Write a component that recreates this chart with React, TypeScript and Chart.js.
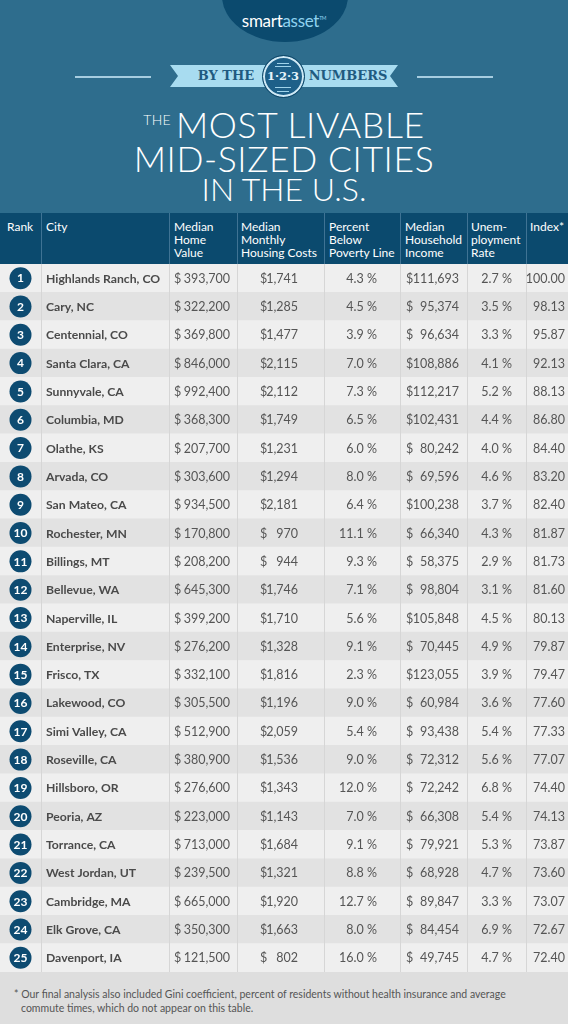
import React, { useEffect, useRef } from "react";
import { Chart, registerables } from "chart.js";

Chart.register(...registerables);

// ---------- data ----------
const RANKS = [1, 2, 3, 4, 5, 6, 7, 8, 9, 10, 11, 12, 13, 14, 15, 16, 17, 18, 19, 20, 21, 22, 23, 24, 25];
const CITIES = [
  "Highlands Ranch, CO", "Cary, NC", "Centennial, CO", "Santa Clara, CA", "Sunnyvale, CA",
  "Columbia, MD", "Olathe, KS", "Arvada, CO", "San Mateo, CA", "Rochester, MN",
  "Billings, MT", "Bellevue, WA", "Naperville, IL", "Enterprise, NV", "Frisco, TX",
  "Lakewood, CO", "Simi Valley, CA", "Roseville, CA", "Hillsboro, OR", "Peoria, AZ",
  "Torrance, CA", "West Jordan, UT", "Cambridge, MA", "Elk Grove, CA", "Davenport, IA",
];
const HOME_VALUE = [
  393700, 322200, 369800, 846000, 992400, 368300, 207700, 303600, 934500, 170800,
  208200, 645300, 399200, 276200, 332100, 305500, 512900, 380900, 276600, 223000,
  713000, 239500, 665000, 350300, 121500,
];
const HOUSING_COSTS = [
  1741, 1285, 1477, 2115, 2112, 1749, 1231, 1294, 2181, 970,
  944, 1746, 1710, 1328, 1816, 1196, 2059, 1536, 1343, 1143,
  1684, 1321, 1920, 1663, 802,
];
const POVERTY = [
  4.3, 4.5, 3.9, 7.0, 7.3, 6.5, 6.0, 8.0, 6.4, 11.1,
  9.3, 7.1, 5.6, 9.1, 2.3, 9.0, 5.4, 9.0, 12.0, 7.0,
  9.1, 8.8, 12.7, 8.0, 16.0,
];
const INCOME = [
  111693, 95374, 96634, 108886, 112217, 102431, 80242, 69596, 100238, 66340,
  58375, 98804, 105848, 70445, 123055, 60984, 93438, 72312, 72242, 66308,
  79921, 68928, 89847, 84454, 49745,
];
const UNEMPLOYMENT = [
  2.7, 3.5, 3.3, 4.1, 5.2, 4.4, 4.0, 4.6, 3.7, 4.3,
  2.9, 3.1, 4.5, 4.9, 3.9, 3.6, 5.4, 5.6, 6.8, 5.4,
  5.3, 4.7, 3.3, 6.9, 4.7,
];
const INDEX = [
  100.0, 98.13, 95.87, 92.13, 88.13, 86.8, 84.4, 83.2, 82.4, 81.87,
  81.73, 81.6, 80.13, 79.87, 79.47, 77.6, 77.33, 77.07, 74.4, 74.13,
  73.87, 73.6, 73.07, 72.67, 72.4,
];
const HEADERS = [
  ["Rank"],
  ["City"],
  ["Median", "Home", "Value"],
  ["Median", "Monthly", "Housing Costs"],
  ["Percent", "Below", "Poverty Line"],
  ["Median", "Household", "Income"],
  ["Unem-", "ployment", "Rate"],
  ["Index*"],
];
const FOOTNOTE_1 = "Our final analysis also included Gini coefficient, percent of residents without health insurance and average";
const FOOTNOTE_2 = "commute times, which do not appear on this table.";

// ---------- layout ----------
const W = 568;
const COL_EDGES = [0, 41, 169, 237, 324, 400, 467, 526, 568];
const HEADER_TEXT_X = [7, 46, 174, 241, 329, 405, 471, 530];
const NAVY = "#0b4a6e";
const STEEL = "#2e6d8d";

const fmt = (n: number) => n.toLocaleString("en-US");

const tablePlugin = {
  id: "tableCells",
  afterDatasetsDraw(chart: any) {
    const { ctx, chartArea, scales } = chart;
    const xs = scales.x;
    const ys = scales.y;
    const px = (v: number) => xs.getPixelForValue(v);
    ctx.save();
    // column dividers
    ctx.strokeStyle = "#d6d6d6";
    ctx.lineWidth = 1;
    COL_EDGES.slice(1, -1).forEach((e) => {
      const p = Math.round(px(e)) + 0.5;
      ctx.beginPath();
      ctx.moveTo(p, chartArea.top);
      ctx.lineTo(p, chartArea.bottom);
      ctx.stroke();
    });
    const num = "12.5px Lato";
    CITIES.forEach((city, i) => {
      const cy = ys.getPixelForValue(i);
      const base = cy + 4.5;
      // rank badge
      const rx = px((COL_EDGES[0] + COL_EDGES[1]) / 2);
      ctx.fillStyle = "#0d4b71";
      ctx.beginPath();
      ctx.arc(rx, cy, 11, 0, Math.PI * 2);
      ctx.fill();
      ctx.fillStyle = "#ffffff";
      ctx.font = "bold 12px Lato";
      ctx.textAlign = "center";
      ctx.textBaseline = "alphabetic";
      ctx.fillText(String(RANKS[i]), rx, cy + 4.3);
      // city
      ctx.fillStyle = "#4a4a4a";
      ctx.font = "bold 12.2px Lato";
      ctx.textAlign = "left";
      ctx.fillText(city, px(COL_EDGES[1] + 5), base);
      ctx.fillStyle = "#555555";
      ctx.font = num;
      // home value
      ctx.textAlign = "left";
      ctx.fillText("$", px(COL_EDGES[2] + 5), base);
      ctx.textAlign = "right";
      ctx.fillText(fmt(HOME_VALUE[i]), px(COL_EDGES[3] - 7), base);
      // housing costs
      ctx.textAlign = "left";
      ctx.fillText("$", px(COL_EDGES[3] + 23), base);
      ctx.textAlign = "right";
      ctx.fillText(fmt(HOUSING_COSTS[i]), px(COL_EDGES[4] - 26), base);
      // poverty
      ctx.fillText(POVERTY[i].toFixed(1) + " %", px(COL_EDGES[5] - 23), base);
      // income
      ctx.textAlign = "left";
      ctx.fillText("$", px(COL_EDGES[5] + 6), base);
      ctx.textAlign = "right";
      ctx.fillText(fmt(INCOME[i]), px(COL_EDGES[6] - 8), base);
      // unemployment
      ctx.fillText(UNEMPLOYMENT[i].toFixed(1) + " %", px(COL_EDGES[7] - 14), base);
      // index
      ctx.fillText(INDEX[i].toFixed(2), px(COL_EDGES[8] - 3), base);
    });
    ctx.restore();
  },
};

function TableChart() {
  const ref = useRef<HTMLCanvasElement | null>(null);
  useEffect(() => {
    if (!ref.current) return;
    const chart = new Chart(ref.current, {
      type: "bar",
      data: {
        labels: CITIES,
        datasets: [
          {
            data: CITIES.map(() => [COL_EDGES[0], COL_EDGES[COL_EDGES.length - 1]]) as any,
            backgroundColor: CITIES.map((_, i) => (i % 2 === 0 ? "#efefef" : "#e2e2e2")),
            borderWidth: 0,
            barPercentage: 1,
            categoryPercentage: 1,
          },
        ],
      },
      options: {
        indexAxis: "y",
        animation: false,
        responsive: true,
        maintainAspectRatio: false,
        layout: { padding: 0 },
        scales: {
          x: { type: "linear", min: COL_EDGES[0], max: COL_EDGES[COL_EDGES.length - 1], display: false },
          y: { type: "category", display: false, offset: true },
        },
        plugins: { legend: { display: false }, tooltip: { enabled: false } },
      },
      plugins: [tablePlugin],
    });
    return () => chart.destroy();
  }, []);
  return (
    <div style={{ position: "absolute", left: 0, top: 264, width: W, height: 708 }}>
      <canvas ref={ref} />
    </div>
  );
}

export default function App() {
  const titleFont = "Lato, 'Open Sans', sans-serif";
  return (
    <div style={{ position: "relative", width: W, height: 1024, overflow: "hidden", fontFamily: "Lato, sans-serif", background: "#fff" }}>
      <style>{`body{margin:0}`}</style>
      {/* top banner area */}
      <div style={{ position: "absolute", left: 0, top: 0, width: W, height: 213, background: STEEL }} />
      {/* logo */}
      <div style={{ position: "absolute", left: 222, top: -50, width: 126, height: 92, borderRadius: "50%", background: NAVY }} />
      <div style={{ position: "absolute", left: 0, top: 7, width: W, textAlign: "center", fontSize: 17, lineHeight: "22px", letterSpacing: "-0.3px" }}>
        <span style={{ color: "#ffffff" }}>smart</span>
        <span style={{ color: "#8fd2ef" }}>asset</span>
        <sup style={{ color: "#8fd2ef", fontSize: 5 }}>TM</sup>
      </div>
      {/* side lines */}
      <div style={{ position: "absolute", left: 75, top: 76, width: 76, height: 1.5, background: "#a7cde0" }} />
      <div style={{ position: "absolute", left: 417, top: 76, width: 76, height: 1.5, background: "#a7cde0" }} />
      {/* ribbon */}
      <div
        style={{
          position: "absolute", left: 170, top: 65, width: 228, height: 22, background: "#a8dcf0",
          clipPath: "polygon(0 0, 100% 0, calc(100% - 8px) 50%, 100% 100%, 0 100%, 8px 50%)",
        }}
      />
      <div style={{ position: "absolute", left: 196, top: 66, width: 60, textAlign: "center", lineHeight: "20px", fontFamily: "'DejaVu Serif', serif", fontWeight: 700, fontSize: 13, color: "#1f5a80" }}>BY THE</div>
      <div style={{ position: "absolute", left: 305, top: 66, width: 86, textAlign: "center", lineHeight: "20px", fontFamily: "'DejaVu Serif', serif", fontWeight: 700, fontSize: 13, color: "#1f5a80" }}>NUMBERS</div>
      {/* 1-2-3 badge */}
      <div
        style={{
          position: "absolute", left: 261.5, top: 54.5, width: 43, height: 43, borderRadius: "50%", boxSizing: "border-box",
          background: "#1d6089", border: "1.5px solid #0f4768", boxShadow: "inset 0 0 0 2px #cfe9f5",
        }}
      />
      <div style={{ position: "absolute", left: 277, top: 62.5, width: 12, height: 1, background: "#9fd3ea" }} />
      <div style={{ position: "absolute", left: 275, top: 66, width: 16, height: 1, background: "#9fd3ea" }} />
      <div style={{ position: "absolute", left: 275, top: 87, width: 16, height: 1, background: "#9fd3ea" }} />
      <div style={{ position: "absolute", left: 277, top: 90.5, width: 12, height: 1, background: "#9fd3ea" }} />
      <div style={{ position: "absolute", left: 261.5, top: 67, width: 43, textAlign: "center", lineHeight: "18px", fontFamily: "'DejaVu Serif', serif", fontWeight: 700, fontSize: 11.5, color: "#e6f5fb" }}>1·2·3</div>
      {/* title */}
      <div style={{ position: "absolute", left: 0, top: 107, width: W, display: "flex", justifyContent: "center", alignItems: "flex-start", color: "#ffffff", fontFamily: titleFont, fontWeight: 300 }}>
        <span style={{ fontSize: 14, lineHeight: "14px", marginTop: 5.6, marginRight: 5, letterSpacing: "0.3px" }}>THE</span>
        <span style={{ fontSize: 35.5, lineHeight: "35px", letterSpacing: "0.6px" }}>MOST LIVABLE</span>
      </div>
      <div style={{ position: "absolute", left: 0, top: 141, width: W, textAlign: "center", color: "#ffffff", fontFamily: titleFont, fontWeight: 300, fontSize: 35.5, lineHeight: "35px", letterSpacing: "0.6px" }}>
        MID-SIZED CITIES
      </div>
      <div style={{ position: "absolute", left: 0, top: 172.6, width: W, textAlign: "center", color: "#ffffff", fontFamily: titleFont, fontWeight: 300, fontSize: 32, lineHeight: "32px" }}>
        IN THE U.S.
      </div>
      {/* header row */}
      <div style={{ position: "absolute", left: 0, top: 213, width: W, height: 51, background: NAVY }} />
      {COL_EDGES.slice(1, -1).map((e) => (
        <div key={"hd" + e} style={{ position: "absolute", left: e, top: 213, width: 1, height: 51, background: "#3f7394" }} />
      ))}
      {HEADERS.map((lines, i) => (
        <div key={"h" + i} style={{ position: "absolute", left: HEADER_TEXT_X[i], top: 219.5, color: "#ffffff", fontSize: 12, lineHeight: "13px", whiteSpace: "nowrap" }}>
          {lines.map((l, j) => (
            <div key={j}>{l}</div>
          ))}
        </div>
      ))}
      {/* table body */}
      <TableChart />
      {/* footnote */}
      <div style={{ position: "absolute", left: 0, top: 972, width: W, height: 52, background: "#dedede" }} />
      <div style={{ position: "absolute", left: 14, top: 987, color: "#555555", fontSize: 10.5, lineHeight: "14px", whiteSpace: "nowrap" }}>
        <div>* {FOOTNOTE_1}</div>
        <div style={{ paddingLeft: 7 }}>{FOOTNOTE_2}</div>
      </div>
    </div>
  );
}
